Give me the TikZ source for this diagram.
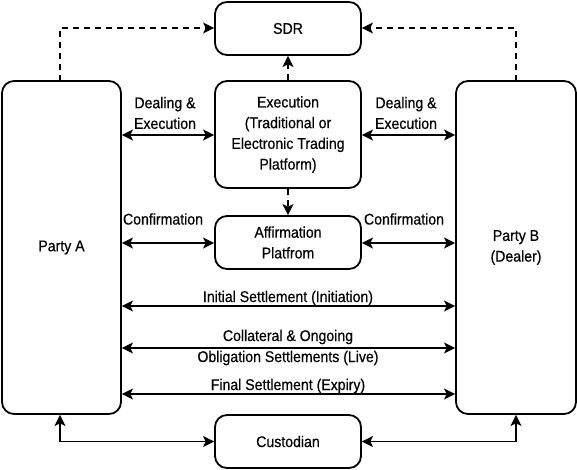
\documentclass[tikz,border=0pt]{standalone}
\usepackage{fontspec}
\setmainfont{Liberation Sans}[FakeStretch=0.91,FakeBold=0.5]
\usetikzlibrary{arrows.meta}
\begin{document}
\begin{tikzpicture}[x=1pt,y=-1pt,
  box/.style={draw, line width=1.8pt, rounded corners=12pt, inner sep=0pt, align=center},
  lbl/.style={inner sep=0pt, align=center},
  conn/.style={line width=1.6pt, {Stealth[length=11pt,width=11pt,inset=2.5pt]}-{Stealth[length=11pt,width=11pt,inset=2.5pt]}},
  dconn/.style={line width=1.5pt, dash pattern=on 6pt off 5pt, -{Stealth[length=11pt,width=11pt,inset=2.5pt]}},
  font=\fontsize{15.5}{20.7}\selectfont]
\useasboundingbox (0,0) rectangle (577,469);
\node[box, minimum width=146pt, minimum height=53pt] (sdr) at (288,28.5) {SDR};
\node[box, minimum width=119pt, minimum height=333pt] (pa) at (61.5,247.5) {Party A};
\node[box, minimum width=120pt, minimum height=333pt] (pb) at (516,247.5) {Party B\\(Dealer)};
\node[box, minimum width=146pt, minimum height=107pt] (ex) at (288,134.5) {Execution\\(Traditional or\\Electronic Trading\\Platform)};
\node[box, minimum width=146pt, minimum height=53pt] (af) at (288,242.5) {Affirmation\\Platfrom};
\node[box, minimum width=146pt, minimum height=53pt] (cu) at (288,441.5) {Custodian};
% coordinates
\coordinate (pa1) at (60,81);
\coordinate (pa2) at (60,28);
\coordinate (pb1) at (516,81);
\coordinate (pb2) at (516,28);
\coordinate (ca) at (60,441.5);
\coordinate (cb) at (516,441.5);
% dashed
\draw[dconn] (pa1) -- (pa2) -- (sdr.west |- pa2);
\draw[dconn] (pb1) -- (pb2) -- (sdr.east |- pb2);
\draw[dconn] (ex.north) -- (sdr.south);
\draw[dconn] (ex.south) -- (af.north);
% dealing
\draw[conn] (pa.east |- 0,135) -- (ex.west |- 0,135);
\draw[conn] (ex.east |- 0,135) -- (pb.west |- 0,135);
\node[lbl] (dl) at (165,113) {Dealing \&\\Execution};
\node[lbl] (dr) at (406,113) {Dealing \&\\Execution};
% confirmation
\draw[conn] (pa.east |- 0,243) -- (af.west |- 0,243);
\draw[conn] (af.east |- 0,243) -- (pb.west |- 0,243);
\node[lbl] (cl) at (163,219) {Confirmation};
\node[lbl] (cr) at (404,219) {Confirmation};
% settlements
\draw[conn] (pa.east |- 0,306) -- (pb.west |- 0,306);
\node[lbl] (is) at (288,298) {Initial Settlement (Initiation)};
\draw[conn] (pa.east |- 0,348) -- (pb.west |- 0,348);
\node[lbl] (co) at (288,337) {Collateral \& Ongoing};
\node[lbl] (ob) at (288,358) {Obligation Settlements (Live)};
\draw[conn] (pa.east |- 0,394) -- (pb.west |- 0,394);
\node[lbl] (fs) at (288,386) {Final Settlement (Expiry)};
% custodian
\draw[conn] (cu.west) -- (ca) -- (pa.south -| ca);
\draw[conn] (cu.east) -- (cb) -- (pb.south -| cb);
\end{tikzpicture}
\end{document}
